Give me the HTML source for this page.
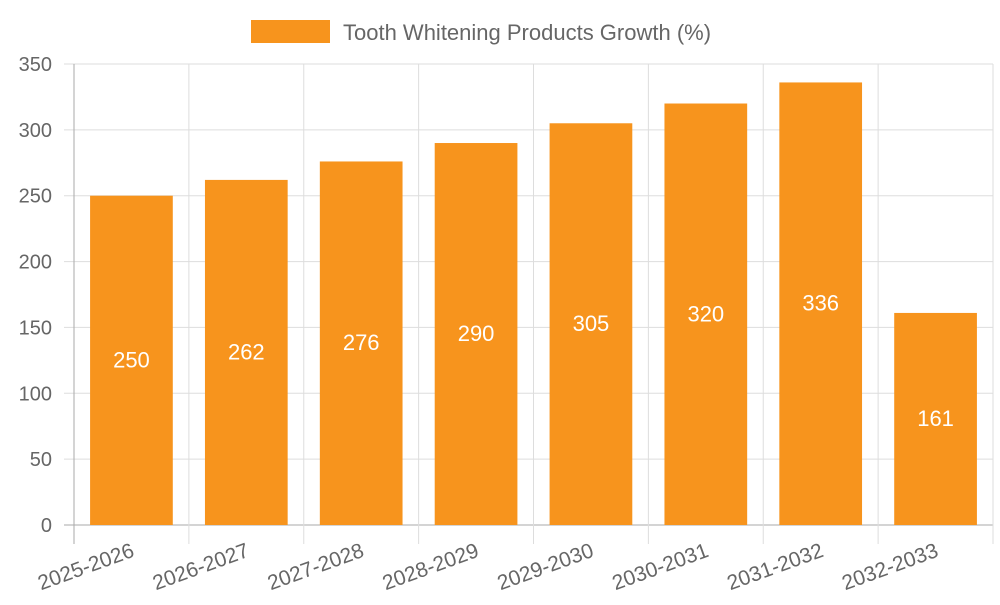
<!DOCTYPE html>
<html><head><meta charset="utf-8"><style>
body{margin:0;background:#fff;}
svg text{font-family:"Liberation Sans",sans-serif;}
</style></head><body>
<svg id="chart" width="1000" height="600">
<g>
<rect x="251" y="20" width="79" height="23" fill="#f7941d"/>
<text x="343" y="40" font-size="22" fill="#666">Tooth Whitening Products Growth (%)</text>
</g>
<g id="grid"></g><g id="bars"></g><g id="labels"></g>
</svg>
<script>
const categories=["2025-2026","2026-2027","2027-2028","2028-2029","2029-2030","2030-2031","2031-2032","2032-2033"];
const values=[250,262,276,290,305,320,336,161];
const yTicks=[0,50,100,150,200,250,300,350];
const L=74,R=993,T=64,B=525,YMAX=350;
const NS="http://www.w3.org/2000/svg";
const svg=document.getElementById('chart');
const g=document.getElementById('grid'),bg=document.getElementById('bars'),lg=document.getElementById('labels');
const bw=(R-L)/categories.length;
const y=v=>B-(v/YMAX)*(B-T);
const x=i=>L+bw*i;
function mk(tag,attrs,parent){const e=document.createElementNS(NS,tag);for(const k in attrs)e.setAttribute(k,attrs[k]);parent.appendChild(e);return e;}
yTicks.forEach(t=>{
 const ln=mk('line',{x1:64,x2:R,y1:y(t),y2:y(t),stroke:t===0?'#aaa':'#ddd','stroke-width':1},g);
 
 
 const tx=mk('text',{x:52,y:y(t)+7,'text-anchor':'end','font-size':20,fill:'#666'},g);
 tx.textContent=t;
 
 
});
for(let i=0;i<=categories.length;i++){
 const ln=mk('line',{x1:x(i),x2:x(i),y1:T,y2:B+19,stroke:i===0?'#aaa':'#ddd','stroke-width':1},g);
 
 
}
categories.forEach((c,i)=>{
 const cx=x(i)+bw/2,w=bw*0.72;
 const r=mk('rect',{x:cx-w/2,y:y(values[i]),width:w,height:B-y(values[i]),fill:'#f7941d'},bg);
 
 
 const vt=mk('text',{x:cx,y:(y(values[i])+B)/2+7,'text-anchor':'middle','font-size':22,fill:'#fff'},lg);
 vt.textContent=values[i];
 
 
 const xt=mk('text',{x:cx+4,y:556,'text-anchor':'end','font-size':21,fill:'#666',transform:`rotate(-20 ${cx+4} 556)`},lg);
 xt.textContent=c;
 
 
});
</script>
</body></html>
